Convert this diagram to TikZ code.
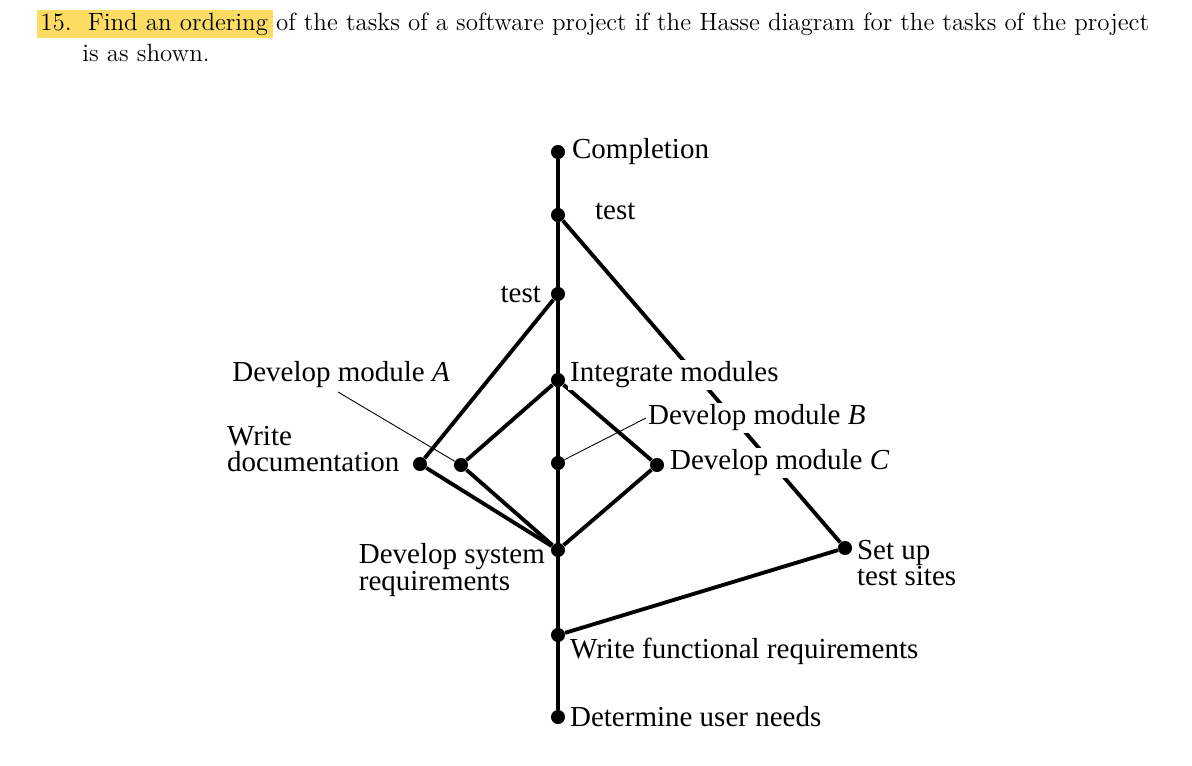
\documentclass[tikz,border=0pt]{standalone}
\usepackage{fontspec}
\newfontfamily\lab{Liberation Serif}
\begin{document}
\begin{tikzpicture}[x=0.02cm,y=-0.02cm,
  dot/.style={circle,fill=black,inner sep=0pt,minimum size=8pt},
  edge/.style={line width=2.2pt},
  lead/.style={line width=0.5pt},
  lbl/.style={font=\lab\fontsize{16.5}{18}\selectfont,inner sep=1pt,fill=white,align=left},
  ttl/.style={font=\fontsize{14.2}{17}\selectfont,inner sep=0pt,anchor=base west}]
\useasboundingbox (0,0) rectangle (1192,766);
\fill[yellow!60!orange!60] (37,10) rectangle (273,38);
\node[ttl] (t1) at (40,31) {15.\ \ Find an ordering of the tasks of a software project if the Hasse diagram for the tasks of the project};
\node[ttl] (t2) at (82,62) {is as shown.};
\node[dot] (comp) at (558,152) {};
\node[dot] (testT) at (558,215) {};
\node[dot] (testL) at (558,294) {};
\node[dot] (integ) at (558,380) {};
\node[dot] (modB) at (558,463) {};
\node[dot] (modA) at (461,465) {};
\node[dot] (doc) at (420,464) {};
\node[dot] (modC) at (657,465) {};
\node[dot] (sys) at (558,550) {};
\node[dot] (sites) at (845,548) {};
\node[dot] (func) at (558,635) {};
\node[dot] (user) at (558,717) {};
\draw[edge] (user) -- (comp);
\draw[edge] (testT) -- (sites);
\draw[edge] (testL) -- (doc) -- (sys);
\draw[edge] (integ) -- (modA) -- (sys);
\draw[edge] (integ) -- (modC) -- (sys);
\draw[edge] (sites) -- (func);
\node[lbl,anchor=west] (lcomp) at (570,152) {Completion};
\node[lbl,anchor=west] (ltestT) at (593,211) {test};
\node[lbl,anchor=east] (ltestL) at (543,294) {test};
\node[lbl,anchor=west] (linteg) at (568,375) {Integrate modules};
\node[lbl,anchor=east] (lA) at (452,375) {Develop module \textit{A}};
\node[lbl,anchor=west] (lB) at (646,418) {Develop module \textit{B}};
\node[lbl,anchor=west] (lC) at (668,463) {Develop module \textit{C}};
\node[lbl,anchor=west,fill=none] (ldoc) at (225,449) {Write\\[-3pt]documentation};
\node[lbl,anchor=east,fill=none] (lsys) at (547,570) {Develop system\\[-3pt]requirements};
\node[lbl,anchor=west,fill=none] (lsites) at (855,563) {Set up\\[-3pt]test sites};
\node[lbl,anchor=west] (lfunc) at (568,651) {Write functional requirements};
\node[lbl,anchor=west] (luser) at (568,717) {Determine user needs};
\draw[lead] (338,392) -- (modA);
\draw[lead] (lB.west) -- (modB);
\end{tikzpicture}
\end{document}
